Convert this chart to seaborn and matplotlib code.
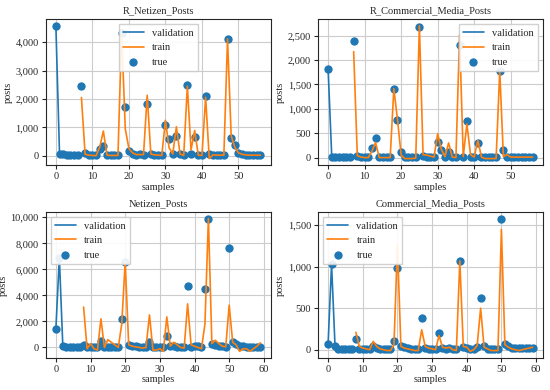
import numpy as np
import pandas as pd
import seaborn as sns
import matplotlib.pyplot as plt
from matplotlib.ticker import FuncFormatter

# Datos (valores estimados)
titles = ["R_Netizen_Posts", "R_Commercial_Media_Posts", "Netizen_Posts", "Commercial_Media_Posts"]
val_end = [7, 7, 8, 8]  # la validacion cubre las primeras muestras, el train empieza aqui
legend_loc = ["upper center", "upper right", "upper left", "upper left"]

r_netizen_true = [4580, 50, 60, 40, 10, 20, 10, 2440, 80, 40, 30, 10, 230, 350, 20, 20, 20, 10,
                  4320, 1720, 150, 50, 30, 60, 30, 1810, 60, 40, 30, 20, 1100, 590, 70, 690, 60, 20,
                  2490, 60, 670, 30, 20, 2120, 50, 40, 20, 20, 20, 4130, 640, 360, 110, 60, 40, 30,
                  30, 20, 20]
r_netizen_train = [2050, 50, 20, 10, 0, 300, 870, 20, 10, 10, 10, 4370, 950, 250, 100, 40, 40, 40,
                   2130, 60, 30, 20, 10, 1250, 280, 60, 1020, 60, 10, 2450, 200, 890, 20, 10, 2060,
                   -100, 30, 20, 20, 20, 4120, 700, 300, 100, 50, 30, 20, 20, 20, 20]

r_commercial_true = [1820, 20, 10, 5, 5, 5, 5, 2380, 30, 20, 10, 10, 200, 400, 10, 10, 10, 10,
                     1400, 760, 120, 10, 10, 10, 10, 2680, 30, 20, 10, 10, 310, 160, 10, 110, 10, 10,
                     2310, 20, 740, 10, 10, 300, 10, 10, 10, 10, 10, 1770, 150, 10, 10, 10, 10, 10,
                     10, 10, 10]
r_commercial_train = [2170, 40, 10, 0, 0, 130, 310, 0, 0, 0, 0, 1410, 780, 50, -20, -20, -20, -10,
                      2700, 60, 50, 30, 10, 490, 170, 20, 300, 10, 0, 2520, 20, 690, 60, 10, 350,
                      10, -20, -20, -20, -20, 1770, 20, 60, 10, 10, 10, 10, 10, 10, 10]

netizen_true = [1430, 6900, 120, 50, 30, 30, 30, 30, 180, 50, 40, 30, 30, 500, 60, 40, 40, 30, 40,
                2150, 6600, 180, 100, 80, 60, 50, 40, 400, 60, 40, 40, 30, 900, 140, 80, 60, 50, 40,
                4730, 60, 120, 80, 60, 4480, 9900, 250, 200, 120, 80, 60, 7650, 400, 250, 120, 80,
                60, 50, 40, 40, 30]
netizen_train = [3100, -100, 300, -100, -200, 2200, 0, 600, 400, 200, 0, 1800, 6600, 200, 100, 50,
                 0, -50, 0, 2500, -200, -200, -100, -300, 2350, 100, 400, 200, 0, -50, 3350, 200,
                 100, 0, -100, 1800, 9900, 300, 550, 300, 100, 50, 3250, 400, 200, -300, -100,
                 -100, -300, -100, 100, 350]

commercial_true = [70, 1030, 40, 10, 10, 10, 10, 10, 130, 10, 10, 10, 10, 50, 20, 10, 10, 10, 10,
                   100, 990, 50, 30, 20, 10, 10, 10, 380, 20, 10, 10, 10, 200, 20, 10, 20, 10, 10,
                   1070, 30, 20, 10, 10, 30, 620, 40, 10, 10, 10, 10, 1580, 70, 40, 20, 20, 20, 20,
                   20, 20, 20]
commercial_train = [210, 40, 20, 10, 0, 100, 40, 10, 0, -10, -10, 60, 1260, 40, 20, 10, 0, -10, -10,
                    240, 40, 20, 10, 0, 170, 30, 20, 30, 0, -10, 1070, 40, 30, -20, 0, 50, 500, 30,
                    10, -10, -10, -10, 1450, 60, 30, 10, 0, -10, 0, 10, 20, 30]

true_series = [r_netizen_true, r_commercial_true, netizen_true, commercial_true]
train_series = [r_netizen_train, r_commercial_train, netizen_train, commercial_train]

sns.set_style("ticks")
plt.rcParams["font.family"] = ["Liberation Serif", "DejaVu Serif"]
plt.rcParams["font.size"] = 7.5

fig, axes = plt.subplots(2, 2, figsize=(5.5, 3.9), dpi=100)
fig.subplots_adjust(left=0.083, right=0.987, top=0.951, bottom=0.082, wspace=0.21, hspace=0.32)

blue = "#1f77b4"
orange = "#ff7f0e"
fmt = FuncFormatter(lambda v, p: f"{int(v):,}")

for ax, title, y_true, y_train, n_val, loc in zip(axes.flat, titles, true_series, train_series,
                                                  val_end, legend_loc):
    x = np.arange(len(y_true))
    df_val = pd.DataFrame({"samples": x[:n_val], "posts": y_true[:n_val]})
    df_train = pd.DataFrame({"samples": x[n_val:], "posts": y_train})
    df_true = pd.DataFrame({"samples": x, "posts": y_true})

    sns.lineplot(data=df_val, x="samples", y="posts", ax=ax, color=blue, lw=1.2, label="validation")
    sns.lineplot(data=df_train, x="samples", y="posts", ax=ax, color=orange, lw=1.2, label="train")
    sns.scatterplot(data=df_true, x="samples", y="posts", ax=ax, color=blue, s=36,
                    edgecolor=blue, linewidth=0, label="true", zorder=1)

    ax.set_title(title, fontsize=7.5, pad=4)
    ax.set_xlabel("samples", fontsize=7.5, labelpad=1)
    ax.set_ylabel("posts", fontsize=7.5, labelpad=2)
    ax.yaxis.set_major_formatter(fmt)
    ax.grid(True, color="#cccccc", lw=0.8)
    ax.tick_params(labelsize=7.5, length=3, pad=2)
    ax.legend(loc=loc, fontsize=7.5, frameon=True, fancybox=False, framealpha=0.9)

plt.savefig("out.png", dpi=100)
